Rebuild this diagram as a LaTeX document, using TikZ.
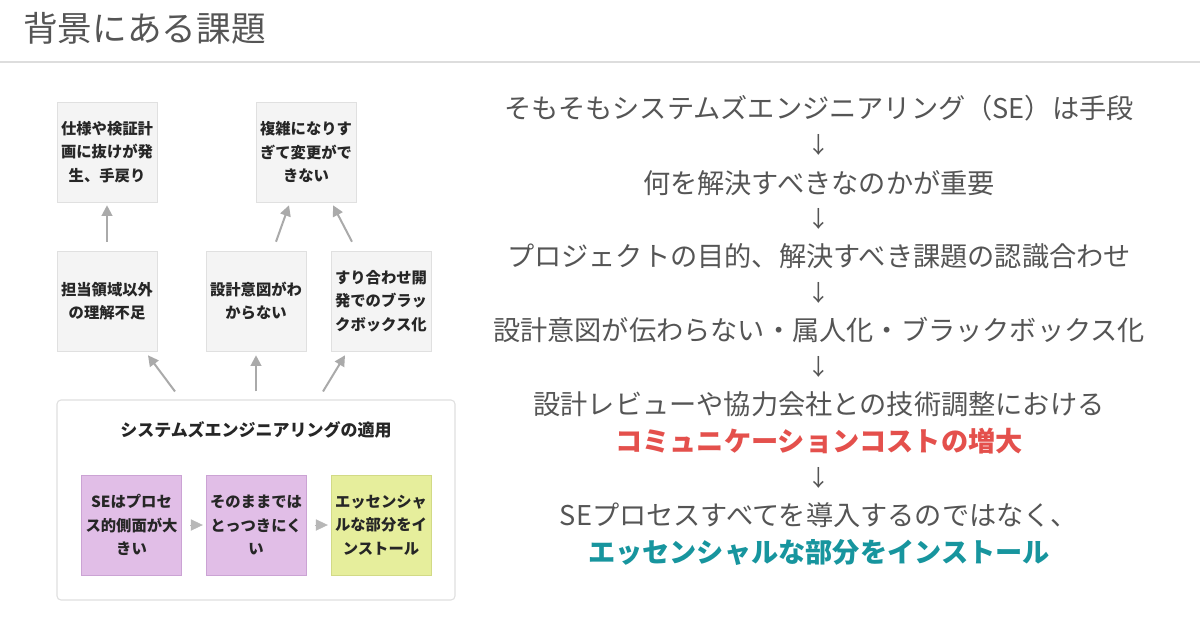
\documentclass[tikz,border=0pt]{standalone}
\usepackage{fontspec}
\setmainfont{Noto Sans CJK JP}
\usetikzlibrary{arrows.meta,calc}
\definecolor{kgtext}{HTML}{555555}
\definecolor{kgline}{HTML}{DDDDDD}
\definecolor{kgbox}{HTML}{F4F4F4}
\definecolor{kgbord}{HTML}{E0E0E0}
\definecolor{kgarrow}{HTML}{AAAAAA}
\definecolor{kpurple}{HTML}{E1BEE7}
\definecolor{kpurpled}{HTML}{CBA3D4}
\definecolor{klime}{HTML}{E6EE9C}
\definecolor{klimed}{HTML}{D2DA86}
\definecolor{kred}{HTML}{E4504C}
\definecolor{kteal}{HTML}{17959E}

\begin{document}
\begin{tikzpicture}[x=0.75pt, y=-0.75pt,
  prob/.style={draw=kgbord, line width=0.4pt, fill=kgbox, minimum width=75pt, minimum height=75pt, inner sep=0pt, align=center, text=black!85, font=\fontsize{11.5}{17.6}\selectfont\bfseries},
  purplebox/.style={prob, draw=kpurpled, fill=kpurple},
  limebox/.style={prob, draw=klimed, fill=klime},
  conn/.style={draw=kgarrow, line width=1.5pt, -{Triangle[length=8pt,width=8pt]}},
  flowtip/.style={draw=kgarrow!85, line width=0.5pt, -{Triangle[length=9pt,width=8.5pt]}, shorten <=6.4pt, shorten >=2.2pt},
  msg/.style={text=kgtext, inner sep=0pt, font=\fontsize{20.4}{24}\selectfont},
  down/.style={msg, font=\fontsize{17}{20}\selectfont}]
  \useasboundingbox (0,0) rectangle (1200,618);
  \fill[white] (0,0) rectangle (1200,618);

  % title
  \node[anchor=west, inner sep=0pt, text=kgtext, font=\fontsize{26}{30}\selectfont] (title) at (23,28) {背景にある課題};
  \draw[kgline, line width=2.2pt] (0,62) -- (1200,62);

  % left: problems
  \node[prob] (spec) at (107,152) {仕様や検証計\\画に抜けが発\\生、手戻り};
  \node[prob] (complex) at (306,152) {複雑になりす\\ぎて変更がで\\きない};
  \node[prob] (scope) at (107,301) {担当領域以外\\の理解不足};
  \node[prob] (intent) at (256,301) {設計意図がわ\\からない};
  \node[prob] (blackbox) at (381,301) {すり合わせ開\\発でのブラッ\\クボックス化};

  % left: SE application
  \node[draw=kgbord, line width=0.8pt, rounded corners=3pt, fill=white, minimum width=298.5pt, minimum height=150pt] (seapp) at (256,500) {};
  \node[inner sep=0pt, text=black!85, font=\fontsize{12.75}{15}\selectfont\bfseries] (setitle) at (256,430) {システムズエンジニアリングの適用};
  \node[purplebox] (proc) at (131.5,525) {SEはプロセ\\ス的側面が大\\きい};
  \node[purplebox] (hard) at (256,525) {そのままでは\\とっつきにく\\い};
  \node[limebox] (ess) at (381,525) {エッセンシャ\\ルな部分をイ\\ンストール};
  \draw[flowtip] (proc.east) -- (hard.west);
  \draw[flowtip] (hard.east) -- (ess.west);

  \draw[conn] ($(scope.north)+(0,-9)$) -- ($(spec.south)+(0,3)$);
  \draw[conn] ($(intent.north)+(20,-9)$) -- ($(complex.south)+(-17,3)$);
  \draw[conn] ($(blackbox.north)+(-29,-9)$) -- ($(complex.south)+(27,3)$);
  \draw[conn] ($(seapp.north)+(-81,-8)$) -- ($(scope.south)+(41,4)$);
  \draw[conn] ($(seapp.north)+(0,-8)$) -- ($(intent.south)+(0,4)$);
  \draw[conn] ($(seapp.north)+(67,-8)$) -- ($(blackbox.south)+(-36,4)$);

  % right: chain of reasoning
  \node[msg] (why) at (819,108) {そもそもシステムズエンジニアリング（SE）は手段};
  \node[down] (d1) at (819,145) {↓};
  \node[msg] (what) at (819,183) {何を解決すべきなのかが重要};
  \node[down] (d2) at (819,219) {↓};
  \node[msg] (goal) at (819,256) {プロジェクトの目的、解決すべき課題の認識合わせ};
  \node[down] (d3) at (819,293) {↓};
  \node[msg] (lost) at (819,330) {設計意図が伝わらない・属人化・ブラックボックス化};
  \node[down] (d4) at (819,367) {↓};
  \node[msg] (review) at (819,404) {設計レビューや協力会社との技術調整における};
  \node[msg, text=kred, font=\fontsize{20.4}{24}\selectfont\bfseries] (cost) at (819,441) {コミュニケーションコストの増大};
  \node[down] (d5) at (819,478) {↓};
  \node[msg] (notall) at (819,515) {SEプロセスすべてを導入するのではなく、};
  \node[msg, text=kteal, font=\fontsize{20.4}{24}\selectfont\bfseries] (install) at (819,552) {エッセンシャルな部分をインストール};
\end{tikzpicture}
\end{document}
